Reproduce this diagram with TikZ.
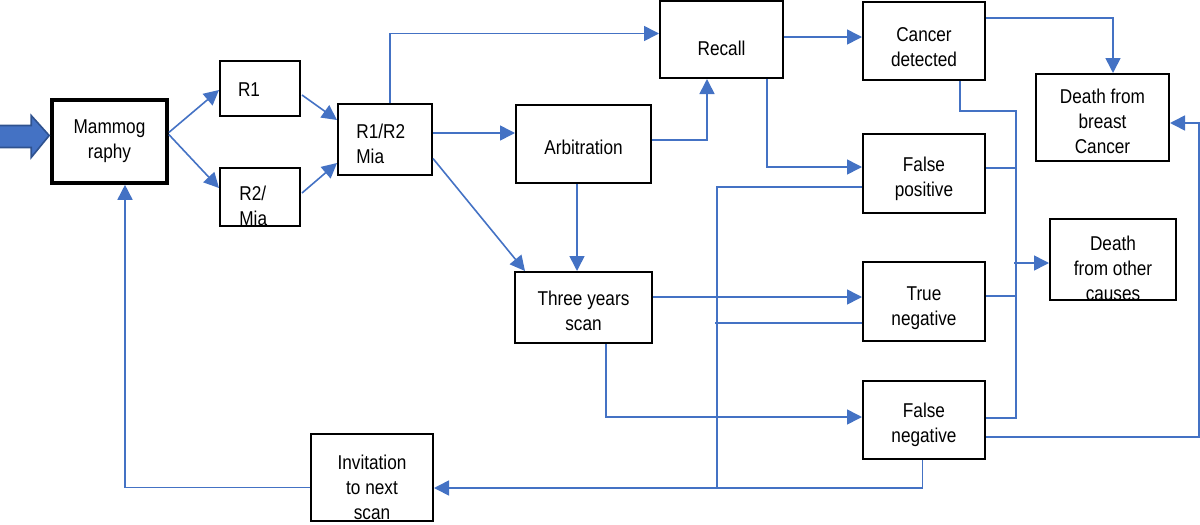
\documentclass[tikz,border=0pt]{standalone}
\usepackage{fontspec}
\setmainfont{Liberation Sans}[FakeStretch=0.86]
\usetikzlibrary{arrows.meta,calc}
\definecolor{myblue}{HTML}{4472C4}
\definecolor{mydark}{HTML}{2F528F}
\begin{document}
\begin{tikzpicture}[x=0.5pt,y=-0.5pt,
  box/.style={draw=black, line width=1pt, inner sep=0pt, align=center, font=\fontsize{10}{12.5}\selectfont},
  sz/.style 2 args={minimum width=#1*0.5pt, minimum height=#2*0.5pt},
  txt/.style={inner sep=0pt, align=center, font=\fontsize{10}{12.5}\selectfont},
  conn/.style={draw=myblue, line width=0.8pt},
  arr/.style={conn, -{Triangle[length=7.5pt,width=7.5pt]}}]
\useasboundingbox (0,0) rectangle (1200,525);
% boxes
\node[box,sz={115}{83},line width=1.8pt] (mam) at (109.5,141.5) {Mammog\\raphy};
\node[box,sz={80}{55}] (r1) at (260,88.5) {};
\node[txt] (r1t) at (249,90) {R1};
\node[box,sz={80}{58}] (r2) at (260,197) {};
\node[txt,anchor=west,align=left] (r2t) at (239,206) {R2/\\Mia};
\node[box,sz={94}{71}] (rm) at (385,139.5) {};
\node[txt,anchor=west,align=left] (rmt) at (356,144) {R1/R2\\Mia};
\node[box,sz={135}{78}] (arb) at (583.5,144) {};
\node[txt] (arbt) at (583.5,147) {Arbitration};
\node[box,sz={123}{77}] (rec) at (721.5,39.5) {};
\node[txt] (rect) at (721.5,48.5) {Recall};
\node[box,sz={122}{78}] (cd) at (924,41) {};
\node[txt] (cdt) at (924,47) {Cancer\\detected};
\node[box,sz={133}{87}] (dbc) at (1102.5,117.5) {};
\node[txt] (dbct) at (1102.5,121) {Death from\\breast\\Cancer};
\node[box,sz={122}{79}] (fp) at (924,173.5) {};
\node[txt] (fpt) at (924,179) {False\\positive};
\node[box,sz={137}{71}] (tys) at (583.5,307.5) {};
\node[txt] (tyst) at (583.5,311) {Three years\\scan};
\node[box,sz={122}{79}] (tn) at (924,301.5) {};
\node[txt] (tnt) at (924,308) {True\\negative};
\node[box,sz={126}{81}] (doc) at (1113,259.5) {};
\node[txt] (doct) at (1113,268) {Death\\from other\\causes};
\node[box,sz={122}{78}] (fn) at (924,420) {};
\node[txt] (fnt) at (924,425) {False\\negative};
\node[box,sz={122}{87}] (inv) at (372,477.5) {};
\node[txt] (invt) at (372,487) {Invitation\\to next\\scan};
% input block arrow
\coordinate (tip) at ($(mam.west)+(-1,-6)$);
\filldraw[fill=myblue, draw=mydark, line width=0.8pt] (tip) -- ++(-18,-20) -- ++(0,10) -- ++(-35,0) -- ++(0,22) -- ++(35,0) -- ++(0,10) -- cycle;
% connectors
\draw[arr] ($(mam.east)+(0,-9)$) -- ($(r1.west)+(0,1.5)$);
\draw[arr] ($(mam.east)+(0,-7)$) -- ($(r2.west)+(0,-9)$);
\draw[arr] ($(r1.east)+(1,6.5)$) -- ($(rm.west)+(0,-19.5)$);
\draw[arr] ($(r2.east)+(1,-4)$) -- ($(rm.west)+(0,23.5)$);
\draw[arr] ($(rm.north)+(5,0)$) |- ($(rec.west)+(0,-6)$);
\draw[arr] ($(rm.east)+(0,-6.5)$) coordinate (a) -- (a -| arb.west);
\draw[arr] ($(rm.east)+(0,19)$) -- ($(tys.north west)+(11,0)$);
\draw[arr] ($(arb.east)+(0,-4)$) -| ($(rec.south)+(-14.5,0)$);
\draw[arr] ($(arb.south)+(-6.5,0)$) coordinate (b) -- (b |- tys.north);
\draw[arr] ($(rec.east)+(0,-2.5)$) coordinate (c) -- (c -| cd.west);
\draw[arr] ($(rec.south)+(45.5,0)$) |- ($(fp.west)+(0,-6.5)$);
\draw[arr] ($(cd.east)+(0,-23)$) -| ($(dbc.north)+(10.5,0)$);
\draw[conn] ($(cd.south)+(36,0)$) -- ++(0,30) -| ($(fn.east)+(30,-2)$) -- ($(fn.east)+(0,-2)$);
\draw[conn] ($(fp.east)+(0,-5.5)$) -- ++(30,0);
\draw[conn] ($(tn.east)+(0,-5.5)$) -- ++(30,0);
\draw[arr] ($(doc.west)+(-35,3.5)$) coordinate (d) -- (d -| doc.west);
\draw[arr] ($(fn.east)+(0,17)$) -- ++(213,0) |- ($(dbc.east)+(0,5.5)$);
\draw[conn] ($(fp.west)+(0,13.5)$) -| ($(inv.east)+(283,10.5)$);
\draw[conn] ($(tn.west)+(0,21.5)$) -- ++(-147,0);
\draw[arr] ($(tys.east)+(0,-10.5)$) coordinate (e) -- (e -| tn.west);
\draw[arr] ($(tys.south)+(22.5,0)$) |- ($(fn.west)+(0,-3)$);
\draw[arr] ($(fn.south)+(-1.5,0)$) |- ($(inv.east)+(0,10.5)$);
\draw[arr] ($(inv.west)+(0,10)$) -| ($(mam.south)+(15.5,0)$);
\end{tikzpicture}
\end{document}
